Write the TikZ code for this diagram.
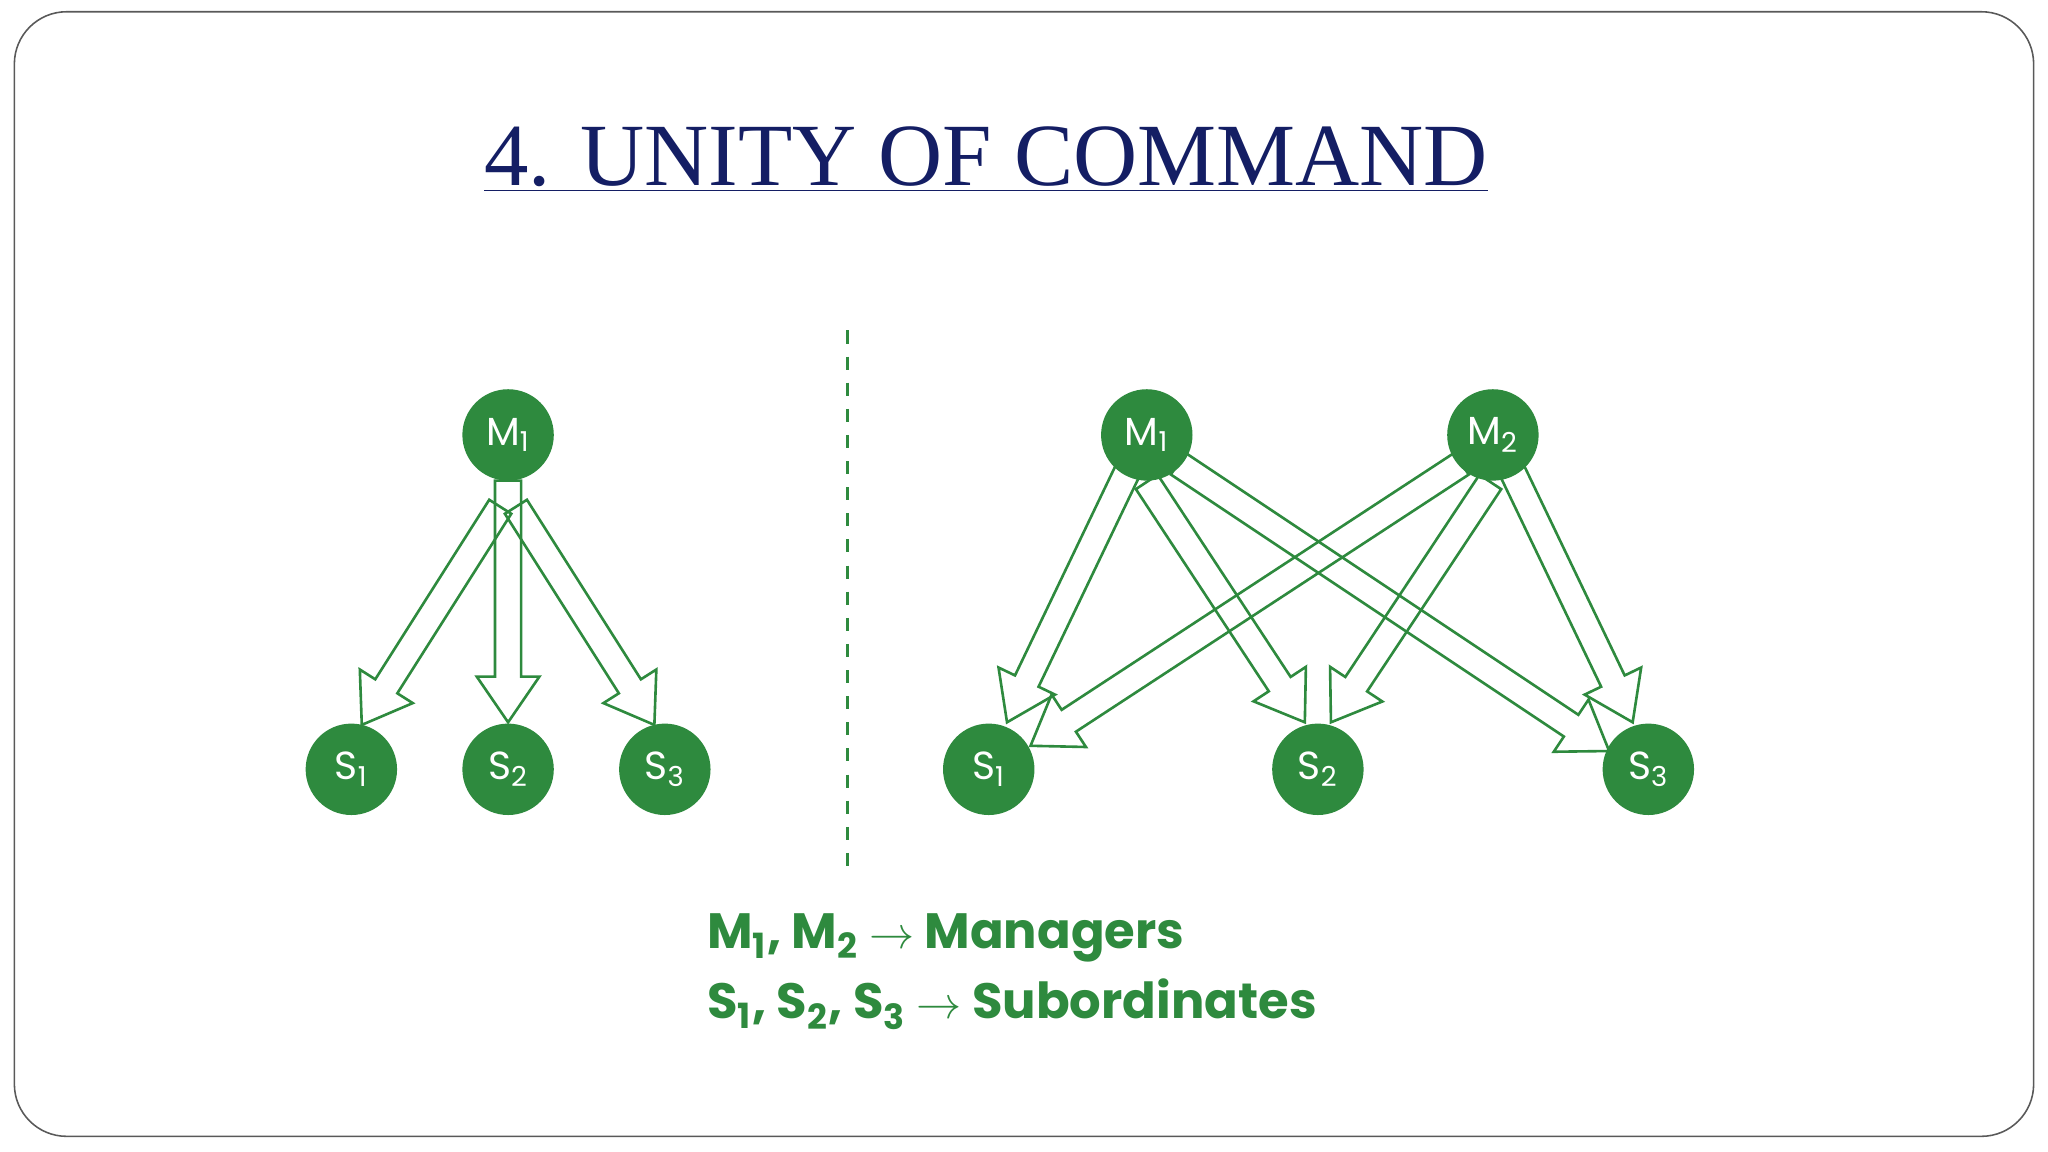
\documentclass[tikz,border=0pt]{standalone}
\usepackage{fontspec}
\setmainfont{Liberation Serif}
\newfontfamily\pop{Poppins}
\usetikzlibrary{calc}
\definecolor{gr}{RGB}{46,138,62}
\definecolor{navy}{RGB}{20,30,100}
\newcommand\harrow[2]{%
 \coordinate (hA) at #1; \coordinate (hB) at #2;
 \coordinate (hH) at ($(hB)!17.5pt!(hA)$);
 \draw[gr,line width=1pt,line join=miter] ($(hA)!5pt!90:(hB)$) -- ($(hH)!5pt!90:(hB)$) -- ($(hH)!12pt!90:(hB)$) -- (hB) -- ($(hH)!12pt!-90:(hB)$) -- ($(hH)!5pt!-90:(hB)$) -- ($(hA)!5pt!-90:(hB)$) -- cycle;}
\begin{document}
\begin{tikzpicture}[x=0.5pt,y=-0.5pt,
 nd/.style={circle,fill=gr,minimum size=35pt,inner sep=0pt,text=white,font=\pop\fontsize{15}{15}\selectfont}]
\useasboundingbox (0,0) rectangle (1568,882);
\draw[gray!70!black,line width=0.6pt,rounded corners=20pt] (11,9) rectangle (1557,870);
\node[navy,font=\fontsize{34}{34}\selectfont,inner sep=0pt] (title) at (755,122) {\underline{4. UNITY OF COMMAND}};
% left
\node[nd] (LM) at (389,333) {M\textsubscript{1}};
\node[nd] (LS1) at (269,589) {S\textsubscript{1}};
\node[nd] (LS2) at (389,589) {S\textsubscript{2}};
\node[nd] (LS3) at (509,589) {S\textsubscript{3}};
\harrow{($(LM)+(0,35)$)}{($(LS2)+(0,-36)$)}
\harrow{($(LM)+(-6,55)$)}{($(LS1)+(8,-34)$)}
\harrow{($(LM)+(6,55)$)}{($(LS3)+(-8,-34)$)}
% divider
\coordinate (d1) at (649,253); \coordinate (d2) at (649,668);
\draw[gr,line width=1pt,dash pattern=on 5pt off 5pt] (d1) -- (d2);
% right
\node[nd] (M1) at (878,333) {M\textsubscript{1}};
\node[nd] (M2) at (1143,333) {M\textsubscript{2}};
\node[nd] (S1) at (757,589) {S\textsubscript{1}};
\node[nd] (S2) at (1009,589) {S\textsubscript{2}};
\node[nd] (S3) at (1262,589) {S\textsubscript{3}};
\harrow{($(M1)+(-14,26)$)}{($(S1)+(14,-36)$)}
\harrow{($(M1)+(0,36)$)}{($(S2)+(-10,-36)$)}
\harrow{($(M1)+(24,22)$)}{($(S3)+(-30,-14)$)}
\harrow{($(M2)+(-24,22)$)}{($(S1)+(32,-18)$)}
\harrow{($(M2)+(-2,36)$)}{($(S2)+(10,-36)$)}
\harrow{($(M2)+(14,26)$)}{($(S3)+(-12,-36)$)}
% legend
\node[gr,anchor=west,inner sep=0pt,font=\pop\fontsize{19}{19}\selectfont\bfseries] (l1) at (541,718) {M\textsubscript{1}, M\textsubscript{2} $\rightarrow$ Managers};
\node[gr,anchor=west,inner sep=0pt,font=\pop\fontsize{19}{19}\selectfont\bfseries] (l2) at (541,769) {S\textsubscript{1}, S\textsubscript{2}, S\textsubscript{3} $\rightarrow$ Subordinates};
\end{tikzpicture}
\end{document}
